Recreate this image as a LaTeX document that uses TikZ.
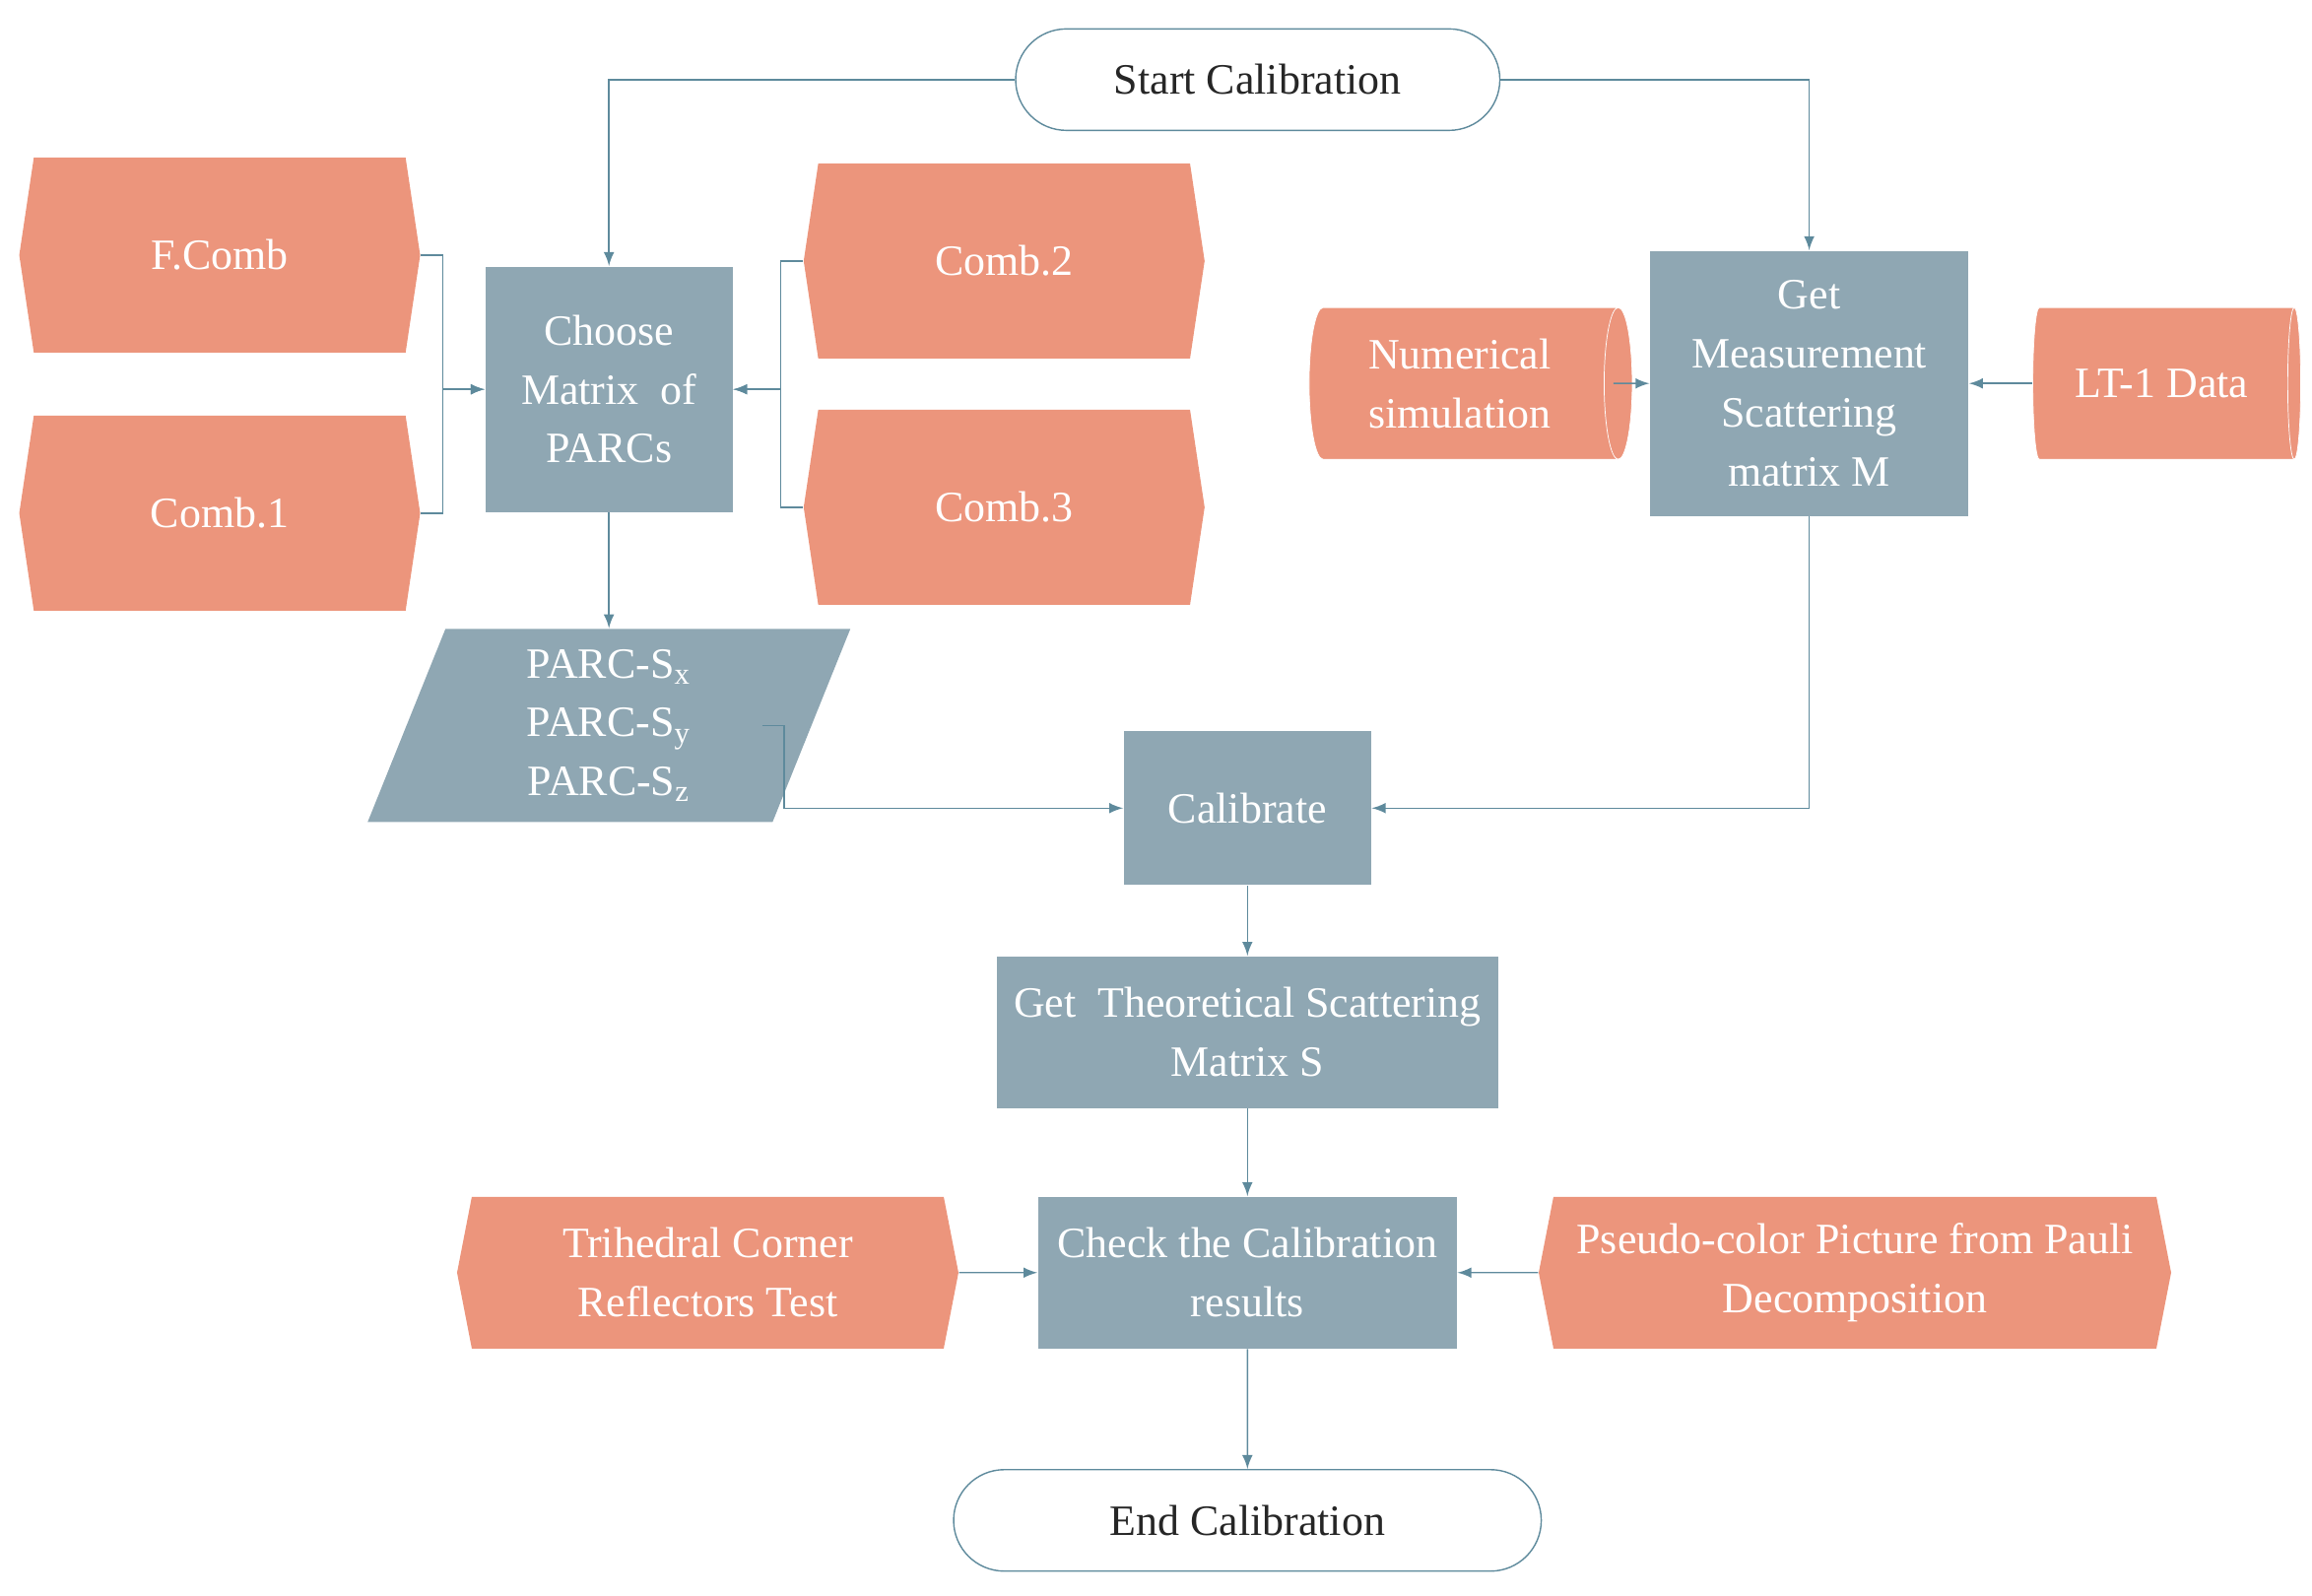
\documentclass[tikz,border=0pt]{standalone}
\usepackage{fontspec}
\setmainfont{Liberation Serif}
\usetikzlibrary{shapes.geometric,shapes.symbols,shapes.misc,positioning}
\definecolor{salmon}{HTML}{EC957C}
\definecolor{slate}{HTML}{8FA7B3}
\definecolor{wire}{HTML}{5E8A9C}
\begin{document}
\begin{tikzpicture}[x=0.01497cm,y=-0.01497cm,
     font=\fontsize{12.5}{17}\selectfont,
     terminal/.style = {draw=wire, rounded rectangle, minimum width=5.15cm, minimum height=1.03cm, text=black!85},
     block/.style = {rectangle, fill=slate, text=white, align=center, inner sep=1pt},
     comb/.style = {signal, signal to=west and east, signal pointer angle=163, fill=salmon, text=white,
      minimum width=4.07cm, minimum height=1.98cm, inner sep=0pt},
     check/.style = {comb, signal pointer angle=158, minimum height=1.54cm, align=center},
     store/.style = {cylinder, shape aspect=0.25, fill=salmon, draw=white, very thin, text=white,
      align=center, minimum width=1.54cm},
     arrow/.style = {draw=wire, -latex, thin}
    ]
    \useasboundingbox (0,0) rectangle (1568,1082);
    \node [terminal] (start) at (853,54) {Start Calibration};
    \node [comb] (fcomb) at (149,173) {F.Comb};
    \node [comb] (comb1) at (149,348) {Comb.1};
    \node [comb] (comb2) at (681,177) {Comb.2};
    \node [comb] (comb3) at (681,344) {Comb.3};
    \node [block, minimum width=2.51cm, minimum height=2.49cm] (choose) at (413,264) {Choose\\Matrix~~of\\PARCs};
    \node [block, minimum width=3.23cm, minimum height=2.69cm] (getm) at (1227,260) {Get\\Measurement\\Scattering\\matrix M};
    \node [store, minimum height=3.28cm] (numsim) at (990,260) {Numerical\\simulation};
    \node [store, minimum height=2.72cm] (lt) at (1466,260) {LT-1 Data};
    \node [trapezium, trapezium left angle=63, trapezium right angle=117, fill=slate, text=white, align=center,
      minimum width=4.9cm, minimum height=1.96cm, inner sep=0pt, trapezium stretches body] (parc) at (413,492)
      {PARC-S\textsubscript{x}\\PARC-S\textsubscript{y}\\PARC-S\textsubscript{z}};
    \node [block, minimum width=2.51cm, minimum height=1.56cm] (calib) at (846,548) {Calibrate};
    \node [block, minimum width=5.09cm, minimum height=1.54cm] (theo) at (846,700) {Get~~Theoretical Scattering\\Matrix S};
    \node [block, minimum width=4.25cm, minimum height=1.54cm] (checkres) at (846,863) {Check the Calibration\\results};
    \node [check, minimum width=5.09cm] (tri) at (480,863) {Trihedral Corner\\Reflectors Test};
    \node [check, minimum width=6.42cm] (pauli) at (1258,863) {Pseudo-color Picture from Pauli\\Decomposition};
    \node [terminal, minimum width=6.2cm] (finish) at (846,1031) {End Calibration};

    \draw[arrow] (start.west) -| (choose.north);
    \draw[arrow] (start.east) -| (getm.north);
    \draw[arrow] (fcomb.east) -- ++(15,0) |- (choose.west);
    \draw[arrow] (comb1.east) -- ++(15,0) |- (choose.west);
    \draw[arrow] (comb2.west) -- ++(-15,0) |- (choose.east);
    \draw[arrow] (comb3.west) -- ++(-15,0) |- (choose.east);
    \draw[arrow] (numsim.east) ++(-13,0) -- (getm.west);
    \draw[arrow] (lt.west) -- (getm.east);
    \draw[arrow] (choose.south) -- (parc.north -| choose.south);
    \draw[arrow] (parc.east) ++(-34,0) -- ++(15,0) |- (calib.west);
    \draw[arrow] (getm.south) |- (calib.east);
    \draw[arrow] (calib) -- (theo);
    \draw[arrow] (theo) -- (checkres);
    \draw[arrow] (tri) -- (checkres);
    \draw[arrow] (pauli) -- (checkres);
    \draw[arrow] (checkres) -- (finish);
\end{tikzpicture}
\end{document}
